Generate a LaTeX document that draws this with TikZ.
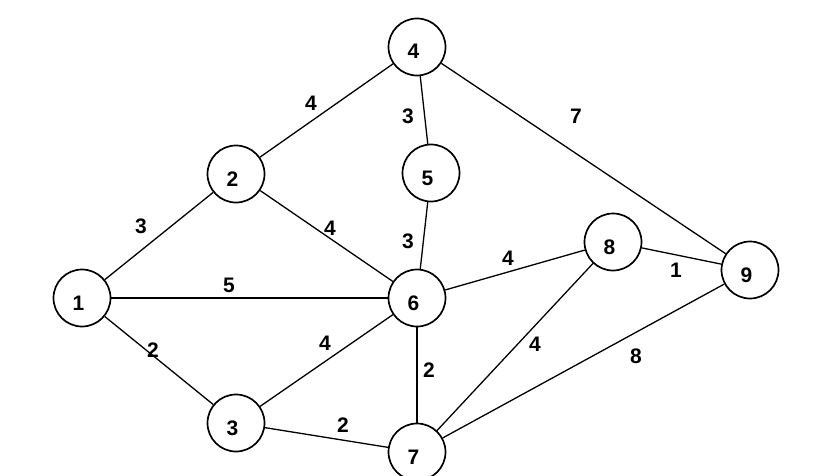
\documentclass[tikz,border=0pt]{standalone}
\usepackage{fontspec}
\setmainfont{Liberation Sans}
\newcommand{\vlab}[1]{\raisebox{-12pt}[0pt][0pt]{#1}\hspace*{7pt}}
\begin{document}
\begin{tikzpicture}[x=1pt,y=-1pt,
  vertex/.style={circle,draw=black,line width=1.7pt,minimum size=57pt,inner sep=0pt,fill=white,font=\fontsize{21}{21}\selectfont\bfseries},
  edge/.style={draw=black,line width=1.3pt},
  weight/.style={font=\fontsize{21}{21}\selectfont\bfseries,inner sep=0pt}]
\useasboundingbox[fill=white] (0,0) rectangle (832,476);
\node[vertex] (n1) at (82,298) {\vlab{1}};
\node[vertex] (n2) at (236,174) {\vlab{2}};
\node[vertex] (n3) at (236,423) {\vlab{3}};
\node[vertex] (n4) at (417,47) {\vlab{4}};
\node[vertex] (n5) at (431,173) {\vlab{5}};
\node[vertex] (n6) at (417,298) {\vlab{6}};
\node[vertex] (n7) at (417,452) {\vlab{7}};
\node[vertex] (n8) at (613,242) {\vlab{8}};
\node[vertex] (n9) at (750,270) {\vlab{9}};
\draw[edge] (n1) -- (n2);
\draw[edge] (n1) -- (n6);
\draw[edge] (n1) -- (n3);
\draw[edge] (n2) -- (n4);
\draw[edge] (n2) -- (n6);
\draw[edge] (n3) -- (n6);
\draw[edge] (n3) -- (n7);
\draw[edge] (n4) -- (n5);
\draw[edge] (n4) -- (n9);
\draw[edge] (n5) -- (n6);
\draw[edge] (n6) -- (n8);
\draw[edge] (n6) -- (n7);
\draw[edge] (n7) -- (n8);
\draw[edge] (n7) -- (n9);
\draw[edge] (n8) -- (n9);
\node[weight] (w24) at (311,103) {4};
\node[weight] (w45) at (408,116) {3};
\node[weight] (w49) at (576,116) {7};
\node[weight] (w12) at (141,226) {3};
\node[weight] (w26) at (330,228) {4};
\node[weight] (w56) at (408,241) {3};
\node[weight] (w68) at (508,258) {4};
\node[weight] (w89) at (676,270) {1};
\node[weight] (w16) at (229,285) {5};
\node[weight] (w13) at (153,350) {2};
\node[weight] (w36) at (325,343) {4};
\node[weight] (w67) at (429,370) {2};
\node[weight] (w78) at (535,344) {4};
\node[weight] (w79) at (636,356) {8};
\node[weight] (w37) at (343,425) {2};
\end{tikzpicture}
\end{document}
